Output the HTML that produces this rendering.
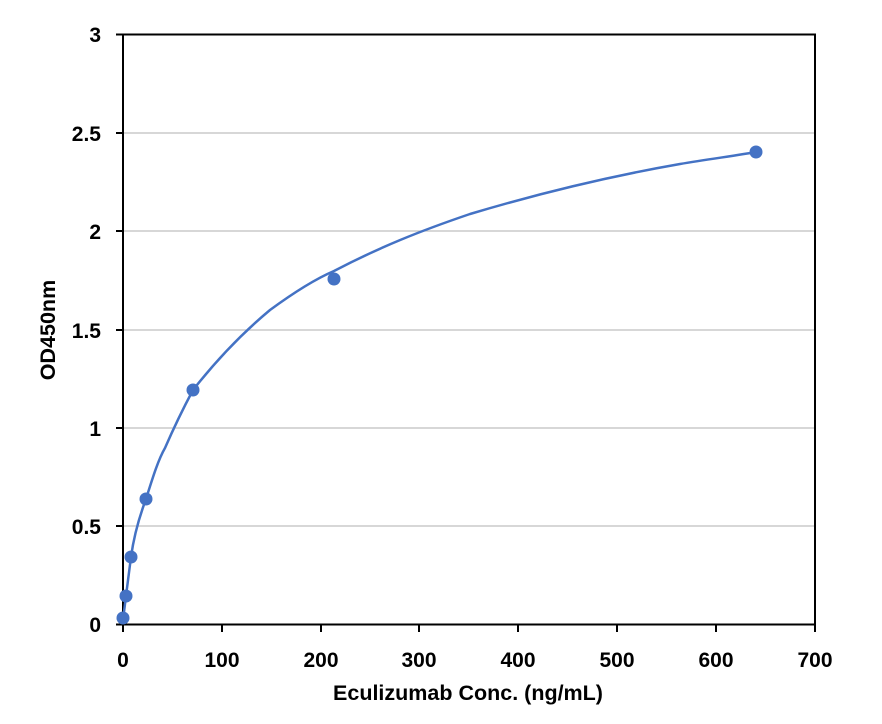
<!DOCTYPE html>
<html><head><meta charset="utf-8"><style>body{margin:0;background:#fff}svg{display:block}text{font-family:"Liberation Sans",Arial,sans-serif;font-weight:bold;fill:#000}</style></head><body>
<svg width="882" height="724" viewBox="0 0 882 724">
<g stroke="#bfbfbf" stroke-width="1.3">
<line x1="123" y1="133" x2="815" y2="133"/><line x1="123" y1="231" x2="815" y2="231"/><line x1="123" y1="330" x2="815" y2="330"/><line x1="123" y1="428" x2="815" y2="428"/><line x1="123" y1="526" x2="815" y2="526"/>
</g>
<g stroke="#000" stroke-width="2" fill="none">
<rect x="123" y="34.5" width="692" height="590"/>
<line x1="116" y1="624.5" x2="123" y2="624.5"/>
<line x1="116" y1="526" x2="123" y2="526"/><line x1="116" y1="428" x2="123" y2="428"/><line x1="116" y1="330" x2="123" y2="330"/><line x1="116" y1="231" x2="123" y2="231"/><line x1="116" y1="133" x2="123" y2="133"/><line x1="116" y1="34.5" x2="123" y2="34.5"/>
<line x1="123" y1="625" x2="123" y2="632"/><line x1="222" y1="625" x2="222" y2="632"/><line x1="321" y1="625" x2="321" y2="632"/><line x1="419" y1="625" x2="419" y2="632"/><line x1="518" y1="625" x2="518" y2="632"/><line x1="617" y1="625" x2="617" y2="632"/><line x1="716" y1="625" x2="716" y2="632"/><line x1="815" y1="625" x2="815" y2="632"/>
</g>
<path d="M124,612 L127,588 L131,557 C134,535 140,515 146,499 C152,480 158,460 165,448 C175,425 185,405 193,390 C215,362 240,335 270,310 C300,288 320,277 334,271 C380,247 420,231 470,214 C530,196 600,178 680,164 C710,159 740,155 756,152" fill="none" stroke="#4472c4" stroke-width="2.5"/>
<g fill="#4472c4">
<circle cx="123" cy="618" r="6.5"/><circle cx="126" cy="596" r="6.5"/><circle cx="131" cy="557" r="6.5"/><circle cx="146" cy="499" r="6.5"/><circle cx="193" cy="390" r="6.5"/><circle cx="334" cy="279" r="6.5"/><circle cx="756" cy="152" r="6.5"/>
</g>
<g font-size="21" text-anchor="end">
<text x="101" y="632">0</text><text x="101" y="534">0.5</text><text x="101" y="436">1</text><text x="101" y="338">1.5</text><text x="101" y="239">2</text><text x="101" y="141">2.5</text><text x="101" y="42">3</text>
</g>
<g font-size="21" text-anchor="middle">
<text x="123" y="667">0</text><text x="222" y="667">100</text><text x="321" y="667">200</text><text x="419" y="667">300</text><text x="518" y="667">400</text><text x="617" y="667">500</text><text x="716" y="667">600</text><text x="815" y="667">700</text>
<text x="468" y="700" font-size="21.5">Eculizumab Conc. (ng/mL)</text>
<text transform="translate(55,330) rotate(-90)" font-size="21.5">OD450nm</text>
</g>
</svg></body></html>
